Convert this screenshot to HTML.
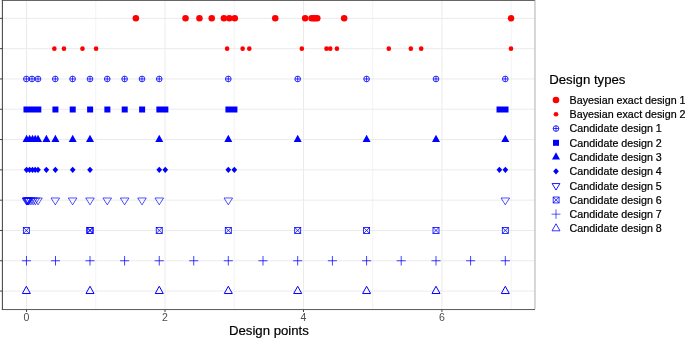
<!DOCTYPE html>
<html lang="en"><head><meta charset="utf-8"><title>Design points</title>
<style>
html,body{margin:0;padding:0;background:#fff;}
body{width:685px;height:338px;overflow:hidden;font-family:"Liberation Sans",Arial,sans-serif;}
svg text{font-family:"Liberation Sans",Arial,sans-serif;}
</style></head><body>
<svg width="685" height="338" viewBox="0 0 685 338" style="display:block">
<rect x="0" y="0" width="685" height="338" fill="#fff"/>
<line x1="95.78" x2="95.78" y1="0.5" y2="309.3" stroke="#ebebeb" stroke-width="0.6"/>
<line x1="234.24" x2="234.24" y1="0.5" y2="309.3" stroke="#ebebeb" stroke-width="0.6"/>
<line x1="372.70" x2="372.70" y1="0.5" y2="309.3" stroke="#ebebeb" stroke-width="0.6"/>
<line x1="511.16" x2="511.16" y1="0.5" y2="309.3" stroke="#ebebeb" stroke-width="0.6"/>
<line x1="26.55" x2="26.55" y1="0.5" y2="309.3" stroke="#ebebeb" stroke-width="1.0"/>
<line x1="165.01" x2="165.01" y1="0.5" y2="309.3" stroke="#ebebeb" stroke-width="1.0"/>
<line x1="303.47" x2="303.47" y1="0.5" y2="309.3" stroke="#ebebeb" stroke-width="1.0"/>
<line x1="441.93" x2="441.93" y1="0.5" y2="309.3" stroke="#ebebeb" stroke-width="1.0"/>
<line x1="2.5" x2="534.95" y1="18.36" y2="18.36" stroke="#ebebeb" stroke-width="1.0"/>
<line x1="2.5" x2="534.95" y1="48.66" y2="48.66" stroke="#ebebeb" stroke-width="1.0"/>
<line x1="2.5" x2="534.95" y1="78.96" y2="78.96" stroke="#ebebeb" stroke-width="1.0"/>
<line x1="2.5" x2="534.95" y1="109.26" y2="109.26" stroke="#ebebeb" stroke-width="1.0"/>
<line x1="2.5" x2="534.95" y1="139.56" y2="139.56" stroke="#ebebeb" stroke-width="1.0"/>
<line x1="2.5" x2="534.95" y1="169.86" y2="169.86" stroke="#ebebeb" stroke-width="1.0"/>
<line x1="2.5" x2="534.95" y1="200.16" y2="200.16" stroke="#ebebeb" stroke-width="1.0"/>
<line x1="2.5" x2="534.95" y1="230.46" y2="230.46" stroke="#ebebeb" stroke-width="1.0"/>
<line x1="2.5" x2="534.95" y1="260.76" y2="260.76" stroke="#ebebeb" stroke-width="1.0"/>
<line x1="2.5" x2="534.95" y1="291.06" y2="291.06" stroke="#ebebeb" stroke-width="1.0"/>
<circle cx="135.86" cy="18.36" r="3.25" fill="#ff0000"/>
<circle cx="185.53" cy="18.36" r="3.25" fill="#ff0000"/>
<circle cx="199.44" cy="18.36" r="3.25" fill="#ff0000"/>
<circle cx="211.72" cy="18.36" r="3.25" fill="#ff0000"/>
<circle cx="223.90" cy="18.36" r="3.25" fill="#ff0000"/>
<circle cx="229.30" cy="18.36" r="3.25" fill="#ff0000"/>
<circle cx="234.77" cy="18.36" r="3.25" fill="#ff0000"/>
<circle cx="275.24" cy="18.36" r="3.25" fill="#ff0000"/>
<circle cx="305.15" cy="18.36" r="3.25" fill="#ff0000"/>
<circle cx="311.60" cy="18.36" r="3.25" fill="#ff0000"/>
<circle cx="313.60" cy="18.36" r="3.25" fill="#ff0000"/>
<circle cx="315.30" cy="18.36" r="3.25" fill="#ff0000"/>
<circle cx="317.30" cy="18.36" r="3.25" fill="#ff0000"/>
<circle cx="344.17" cy="18.36" r="3.25" fill="#ff0000"/>
<circle cx="511.00" cy="18.36" r="3.25" fill="#ff0000"/>
<circle cx="54.35" cy="48.66" r="2.30" fill="#ff0000"/>
<circle cx="63.96" cy="48.66" r="2.30" fill="#ff0000"/>
<circle cx="82.46" cy="48.66" r="2.30" fill="#ff0000"/>
<circle cx="96.07" cy="48.66" r="2.30" fill="#ff0000"/>
<circle cx="227.10" cy="48.66" r="2.30" fill="#ff0000"/>
<circle cx="242.63" cy="48.66" r="2.30" fill="#ff0000"/>
<circle cx="249.29" cy="48.66" r="2.30" fill="#ff0000"/>
<circle cx="301.86" cy="48.66" r="2.30" fill="#ff0000"/>
<circle cx="326.50" cy="48.66" r="2.30" fill="#ff0000"/>
<circle cx="330.20" cy="48.66" r="2.30" fill="#ff0000"/>
<circle cx="336.90" cy="48.66" r="2.30" fill="#ff0000"/>
<circle cx="388.79" cy="48.66" r="2.30" fill="#ff0000"/>
<circle cx="410.83" cy="48.66" r="2.30" fill="#ff0000"/>
<circle cx="421.18" cy="48.66" r="2.30" fill="#ff0000"/>
<circle cx="511.00" cy="48.66" r="2.30" fill="#ff0000"/>
<g stroke="#0000ff" stroke-width="0.8" fill="none"><circle cx="26.35" cy="78.96" r="2.85"/><path d="M23.50 78.96H29.20M26.35 76.11V81.81"/></g>
<g stroke="#0000ff" stroke-width="0.8" fill="none"><circle cx="32.00" cy="78.96" r="2.85"/><path d="M29.15 78.96H34.85M32.00 76.11V81.81"/></g>
<g stroke="#0000ff" stroke-width="0.8" fill="none"><circle cx="38.00" cy="78.96" r="2.85"/><path d="M35.15 78.96H40.85M38.00 76.11V81.81"/></g>
<g stroke="#0000ff" stroke-width="0.8" fill="none"><circle cx="55.30" cy="78.96" r="2.85"/><path d="M52.45 78.96H58.15M55.30 76.11V81.81"/></g>
<g stroke="#0000ff" stroke-width="0.8" fill="none"><circle cx="72.60" cy="78.96" r="2.85"/><path d="M69.75 78.96H75.45M72.60 76.11V81.81"/></g>
<g stroke="#0000ff" stroke-width="0.8" fill="none"><circle cx="90.00" cy="78.96" r="2.85"/><path d="M87.15 78.96H92.85M90.00 76.11V81.81"/></g>
<g stroke="#0000ff" stroke-width="0.8" fill="none"><circle cx="107.25" cy="78.96" r="2.85"/><path d="M104.40 78.96H110.10M107.25 76.11V81.81"/></g>
<g stroke="#0000ff" stroke-width="0.8" fill="none"><circle cx="124.60" cy="78.96" r="2.85"/><path d="M121.75 78.96H127.45M124.60 76.11V81.81"/></g>
<g stroke="#0000ff" stroke-width="0.8" fill="none"><circle cx="142.00" cy="78.96" r="2.85"/><path d="M139.15 78.96H144.85M142.00 76.11V81.81"/></g>
<g stroke="#0000ff" stroke-width="0.8" fill="none"><circle cx="159.25" cy="78.96" r="2.85"/><path d="M156.40 78.96H162.10M159.25 76.11V81.81"/></g>
<g stroke="#0000ff" stroke-width="0.8" fill="none"><circle cx="228.30" cy="78.96" r="2.85"/><path d="M225.45 78.96H231.15M228.30 76.11V81.81"/></g>
<g stroke="#0000ff" stroke-width="0.8" fill="none"><circle cx="297.70" cy="78.96" r="2.85"/><path d="M294.85 78.96H300.55M297.70 76.11V81.81"/></g>
<g stroke="#0000ff" stroke-width="0.8" fill="none"><circle cx="366.60" cy="78.96" r="2.85"/><path d="M363.75 78.96H369.45M366.60 76.11V81.81"/></g>
<g stroke="#0000ff" stroke-width="0.8" fill="none"><circle cx="436.00" cy="78.96" r="2.85"/><path d="M433.15 78.96H438.85M436.00 76.11V81.81"/></g>
<g stroke="#0000ff" stroke-width="0.8" fill="none"><circle cx="505.30" cy="78.96" r="2.85"/><path d="M502.45 78.96H508.15M505.30 76.11V81.81"/></g>
<path d="M23.47 106.38h6v6h-6zM26.42 106.38h6v6h-6zM29.32 106.38h6v6h-6zM32.32 106.38h6v6h-6zM35.32 106.38h6v6h-6zM52.42 106.38h6v6h-6zM69.72 106.38h6v6h-6zM87.12 106.38h6v6h-6zM104.37 106.38h6v6h-6zM121.72 106.38h6v6h-6zM139.12 106.38h6v6h-6zM156.37 106.38h6v6h-6zM162.37 106.38h6v6h-6zM225.42 106.38h6v6h-6zM231.42 106.38h6v6h-6zM496.52 106.38h6v6h-6zM502.52 106.38h6v6h-6z" fill="#0000ff" fill-rule="nonzero"/>
<polygon points="26.60,134.64 30.60,141.99 22.60,141.99" fill="#0000ff"/>
<polygon points="29.60,134.64 33.60,141.99 25.60,141.99" fill="#0000ff"/>
<polygon points="32.50,134.64 36.50,141.99 28.50,141.99" fill="#0000ff"/>
<polygon points="35.20,134.64 39.20,141.99 31.20,141.99" fill="#0000ff"/>
<polygon points="38.00,134.64 42.00,141.99 34.00,141.99" fill="#0000ff"/>
<polygon points="46.40,134.64 50.40,141.99 42.40,141.99" fill="#0000ff"/>
<polygon points="55.40,134.64 59.40,141.99 51.40,141.99" fill="#0000ff"/>
<polygon points="72.70,134.64 76.70,141.99 68.70,141.99" fill="#0000ff"/>
<polygon points="90.00,134.64 94.00,141.99 86.00,141.99" fill="#0000ff"/>
<polygon points="159.25,134.64 163.25,141.99 155.25,141.99" fill="#0000ff"/>
<polygon points="228.30,134.64 232.30,141.99 224.30,141.99" fill="#0000ff"/>
<polygon points="297.70,134.64 301.70,141.99 293.70,141.99" fill="#0000ff"/>
<polygon points="366.60,134.64 370.60,141.99 362.60,141.99" fill="#0000ff"/>
<polygon points="436.00,134.64 440.00,141.99 432.00,141.99" fill="#0000ff"/>
<polygon points="505.30,134.64 509.30,141.99 501.30,141.99" fill="#0000ff"/>
<polygon points="26.60,166.84 29.45,169.86 26.60,172.89 23.75,169.86" fill="#0000ff"/>
<polygon points="29.60,166.84 32.45,169.86 29.60,172.89 26.75,169.86" fill="#0000ff"/>
<polygon points="32.50,166.84 35.35,169.86 32.50,172.89 29.65,169.86" fill="#0000ff"/>
<polygon points="35.20,166.84 38.05,169.86 35.20,172.89 32.35,169.86" fill="#0000ff"/>
<polygon points="38.00,166.84 40.85,169.86 38.00,172.89 35.15,169.86" fill="#0000ff"/>
<polygon points="46.40,166.84 49.25,169.86 46.40,172.89 43.55,169.86" fill="#0000ff"/>
<polygon points="55.40,166.84 58.25,169.86 55.40,172.89 52.55,169.86" fill="#0000ff"/>
<polygon points="72.70,166.84 75.55,169.86 72.70,172.89 69.85,169.86" fill="#0000ff"/>
<polygon points="90.00,166.84 92.85,169.86 90.00,172.89 87.15,169.86" fill="#0000ff"/>
<polygon points="159.25,166.84 162.10,169.86 159.25,172.89 156.40,169.86" fill="#0000ff"/>
<polygon points="165.25,166.84 168.10,169.86 165.25,172.89 162.40,169.86" fill="#0000ff"/>
<polygon points="228.30,166.84 231.15,169.86 228.30,172.89 225.45,169.86" fill="#0000ff"/>
<polygon points="234.30,166.84 237.15,169.86 234.30,172.89 231.45,169.86" fill="#0000ff"/>
<polygon points="499.40,166.84 502.25,169.86 499.40,172.89 496.55,169.86" fill="#0000ff"/>
<polygon points="505.40,166.84 508.25,169.86 505.40,172.89 502.55,169.86" fill="#0000ff"/>
<polygon points="26.40,204.84 30.70,197.99 22.10,197.99" fill="none" stroke="#0000ff" stroke-width="0.68" stroke-linejoin="miter"/>
<polygon points="26.90,204.84 31.20,197.99 22.60,197.99" fill="none" stroke="#0000ff" stroke-width="0.68" stroke-linejoin="miter"/>
<polygon points="27.40,204.84 31.70,197.99 23.10,197.99" fill="none" stroke="#0000ff" stroke-width="0.68" stroke-linejoin="miter"/>
<polygon points="27.90,204.84 32.20,197.99 23.60,197.99" fill="none" stroke="#0000ff" stroke-width="0.68" stroke-linejoin="miter"/>
<polygon points="28.40,204.84 32.70,197.99 24.10,197.99" fill="none" stroke="#0000ff" stroke-width="0.68" stroke-linejoin="miter"/>
<polygon points="28.90,204.84 33.20,197.99 24.60,197.99" fill="none" stroke="#0000ff" stroke-width="0.68" stroke-linejoin="miter"/>
<polygon points="30.90,204.84 35.20,197.99 26.60,197.99" fill="none" stroke="#0000ff" stroke-width="0.68" stroke-linejoin="miter"/>
<polygon points="33.10,204.84 37.40,197.99 28.80,197.99" fill="none" stroke="#0000ff" stroke-width="0.68" stroke-linejoin="miter"/>
<polygon points="35.30,204.84 39.60,197.99 31.00,197.99" fill="none" stroke="#0000ff" stroke-width="0.68" stroke-linejoin="miter"/>
<polygon points="38.00,204.84 42.30,197.99 33.70,197.99" fill="none" stroke="#0000ff" stroke-width="0.68" stroke-linejoin="miter"/>
<polygon points="55.30,204.84 59.60,197.99 51.00,197.99" fill="none" stroke="#0000ff" stroke-width="0.68" stroke-linejoin="miter"/>
<polygon points="72.60,204.84 76.90,197.99 68.30,197.99" fill="none" stroke="#0000ff" stroke-width="0.68" stroke-linejoin="miter"/>
<polygon points="90.00,204.84 94.30,197.99 85.70,197.99" fill="none" stroke="#0000ff" stroke-width="0.68" stroke-linejoin="miter"/>
<polygon points="107.25,204.84 111.55,197.99 102.95,197.99" fill="none" stroke="#0000ff" stroke-width="0.68" stroke-linejoin="miter"/>
<polygon points="124.60,204.84 128.90,197.99 120.30,197.99" fill="none" stroke="#0000ff" stroke-width="0.68" stroke-linejoin="miter"/>
<polygon points="142.00,204.84 146.30,197.99 137.70,197.99" fill="none" stroke="#0000ff" stroke-width="0.68" stroke-linejoin="miter"/>
<polygon points="159.25,204.84 163.55,197.99 154.95,197.99" fill="none" stroke="#0000ff" stroke-width="0.68" stroke-linejoin="miter"/>
<polygon points="228.30,204.84 232.60,197.99 224.00,197.99" fill="none" stroke="#0000ff" stroke-width="0.68" stroke-linejoin="miter"/>
<polygon points="505.30,204.84 509.60,197.99 501.00,197.99" fill="none" stroke="#0000ff" stroke-width="0.68" stroke-linejoin="miter"/>
<g stroke="#0000ff" stroke-width="0.8" fill="none"><rect x="23.35" y="227.46" width="6.0" height="6.0"/><path d="M23.35 227.46L29.35 233.46M23.35 233.46L29.35 227.46"/></g>
<g stroke="#0000ff" stroke-width="0.8" fill="none"><rect x="86.70" y="227.46" width="6.0" height="6.0"/><path d="M86.70 227.46L92.70 233.46M86.70 233.46L92.70 227.46"/></g>
<g stroke="#0000ff" stroke-width="0.8" fill="none"><rect x="87.25" y="227.46" width="6.0" height="6.0"/><path d="M87.25 227.46L93.25 233.46M87.25 233.46L93.25 227.46"/></g>
<g stroke="#0000ff" stroke-width="0.8" fill="none"><rect x="156.25" y="227.46" width="6.0" height="6.0"/><path d="M156.25 227.46L162.25 233.46M156.25 233.46L162.25 227.46"/></g>
<g stroke="#0000ff" stroke-width="0.8" fill="none"><rect x="225.30" y="227.46" width="6.0" height="6.0"/><path d="M225.30 227.46L231.30 233.46M225.30 233.46L231.30 227.46"/></g>
<g stroke="#0000ff" stroke-width="0.8" fill="none"><rect x="294.70" y="227.46" width="6.0" height="6.0"/><path d="M294.70 227.46L300.70 233.46M294.70 233.46L300.70 227.46"/></g>
<g stroke="#0000ff" stroke-width="0.8" fill="none"><rect x="363.60" y="227.46" width="6.0" height="6.0"/><path d="M363.60 227.46L369.60 233.46M363.60 233.46L369.60 227.46"/></g>
<g stroke="#0000ff" stroke-width="0.8" fill="none"><rect x="433.00" y="227.46" width="6.0" height="6.0"/><path d="M433.00 227.46L439.00 233.46M433.00 233.46L439.00 227.46"/></g>
<g stroke="#0000ff" stroke-width="0.8" fill="none"><rect x="502.30" y="227.46" width="6.0" height="6.0"/><path d="M502.30 227.46L508.30 233.46M502.30 233.46L508.30 227.46"/></g>
<path d="M21.90 260.76H31.00M26.45 256.01V265.51" stroke="#0000ff" stroke-width="0.75" fill="none"/>
<path d="M50.95 260.76H60.05M55.50 256.01V265.51" stroke="#0000ff" stroke-width="0.75" fill="none"/>
<path d="M85.45 260.76H94.55M90.00 256.01V265.51" stroke="#0000ff" stroke-width="0.75" fill="none"/>
<path d="M120.05 260.76H129.15M124.60 256.01V265.51" stroke="#0000ff" stroke-width="0.75" fill="none"/>
<path d="M154.70 260.76H163.80M159.25 256.01V265.51" stroke="#0000ff" stroke-width="0.75" fill="none"/>
<path d="M189.20 260.76H198.30M193.75 256.01V265.51" stroke="#0000ff" stroke-width="0.75" fill="none"/>
<path d="M223.75 260.76H232.85M228.30 256.01V265.51" stroke="#0000ff" stroke-width="0.75" fill="none"/>
<path d="M258.45 260.76H267.55M263.00 256.01V265.51" stroke="#0000ff" stroke-width="0.75" fill="none"/>
<path d="M293.15 260.76H302.25M297.70 256.01V265.51" stroke="#0000ff" stroke-width="0.75" fill="none"/>
<path d="M327.85 260.76H336.95M332.40 256.01V265.51" stroke="#0000ff" stroke-width="0.75" fill="none"/>
<path d="M362.05 260.76H371.15M366.60 256.01V265.51" stroke="#0000ff" stroke-width="0.75" fill="none"/>
<path d="M396.65 260.76H405.75M401.20 256.01V265.51" stroke="#0000ff" stroke-width="0.75" fill="none"/>
<path d="M431.45 260.76H440.55M436.00 256.01V265.51" stroke="#0000ff" stroke-width="0.75" fill="none"/>
<path d="M466.05 260.76H475.15M470.60 256.01V265.51" stroke="#0000ff" stroke-width="0.75" fill="none"/>
<path d="M500.75 260.76H509.85M505.30 256.01V265.51" stroke="#0000ff" stroke-width="0.75" fill="none"/>
<polygon points="26.35,286.27 30.38,293.52 22.33,293.52" fill="none" stroke="#0000ff" stroke-width="1.0" stroke-linejoin="miter"/>
<polygon points="90.00,286.27 94.03,293.52 85.97,293.52" fill="none" stroke="#0000ff" stroke-width="1.0" stroke-linejoin="miter"/>
<polygon points="159.25,286.27 163.28,293.52 155.22,293.52" fill="none" stroke="#0000ff" stroke-width="1.0" stroke-linejoin="miter"/>
<polygon points="228.30,286.27 232.33,293.52 224.28,293.52" fill="none" stroke="#0000ff" stroke-width="1.0" stroke-linejoin="miter"/>
<polygon points="297.70,286.27 301.72,293.52 293.68,293.52" fill="none" stroke="#0000ff" stroke-width="1.0" stroke-linejoin="miter"/>
<polygon points="366.60,286.27 370.62,293.52 362.58,293.52" fill="none" stroke="#0000ff" stroke-width="1.0" stroke-linejoin="miter"/>
<polygon points="436.00,286.27 440.02,293.52 431.98,293.52" fill="none" stroke="#0000ff" stroke-width="1.0" stroke-linejoin="miter"/>
<polygon points="505.30,286.27 509.32,293.52 501.28,293.52" fill="none" stroke="#0000ff" stroke-width="1.0" stroke-linejoin="miter"/>
<line x1="534.95" x2="534.95" y1="0" y2="309.3" stroke="#c0c0c0" stroke-width="1.3"/>
<line x1="1.9" x2="534.75" y1="0.45" y2="0.45" stroke="#4a4a4a" stroke-width="0.9"/>
<line x1="1.9" x2="534.95" y1="309.55" y2="309.55" stroke="#444" stroke-width="0.9"/>
<line x1="2.4" x2="2.4" y1="0" y2="310" stroke="#444" stroke-width="1.05"/>
<line x1="0" x2="2.5" y1="18.36" y2="18.36" stroke="#444" stroke-width="1.0"/>
<line x1="0" x2="2.5" y1="48.66" y2="48.66" stroke="#444" stroke-width="1.0"/>
<line x1="0" x2="2.5" y1="78.96" y2="78.96" stroke="#444" stroke-width="1.0"/>
<line x1="0" x2="2.5" y1="109.26" y2="109.26" stroke="#444" stroke-width="1.0"/>
<line x1="0" x2="2.5" y1="139.56" y2="139.56" stroke="#444" stroke-width="1.0"/>
<line x1="0" x2="2.5" y1="169.86" y2="169.86" stroke="#444" stroke-width="1.0"/>
<line x1="0" x2="2.5" y1="200.16" y2="200.16" stroke="#444" stroke-width="1.0"/>
<line x1="0" x2="2.5" y1="230.46" y2="230.46" stroke="#444" stroke-width="1.0"/>
<line x1="0" x2="2.5" y1="260.76" y2="260.76" stroke="#444" stroke-width="1.0"/>
<line x1="0" x2="2.5" y1="291.06" y2="291.06" stroke="#444" stroke-width="1.0"/>
<line x1="26.55" x2="26.55" y1="309.8" y2="312.05" stroke="#444" stroke-width="1.0"/>
<text x="26.55" y="321.35" font-size="10.56" fill="#4d4d4d" text-anchor="middle">0</text>
<line x1="165.01" x2="165.01" y1="309.8" y2="312.05" stroke="#444" stroke-width="1.0"/>
<text x="165.01" y="321.35" font-size="10.56" fill="#4d4d4d" text-anchor="middle">2</text>
<line x1="303.47" x2="303.47" y1="309.8" y2="312.05" stroke="#444" stroke-width="1.0"/>
<text x="303.47" y="321.35" font-size="10.56" fill="#4d4d4d" text-anchor="middle">4</text>
<line x1="441.93" x2="441.93" y1="309.8" y2="312.05" stroke="#444" stroke-width="1.0"/>
<text x="441.93" y="321.35" font-size="10.56" fill="#4d4d4d" text-anchor="middle">6</text>
<text x="268.9" y="335.3" font-size="13.2" fill="#000" stroke="#000" stroke-width="0.2" text-anchor="middle">Design points</text>
<text x="549.2" y="84.25" font-size="13.2" fill="#000" stroke="#000" stroke-width="0.2">Design types</text>
<text transform="translate(569.6,103.95) scale(1.0135,1)" font-size="10.56" fill="#000" stroke="#000" stroke-width="0.22">Bayesian exact design 1</text>
<circle cx="556.00" cy="100.00" r="3.30" fill="#ff0000"/>
<text transform="translate(569.6,118.22) scale(1.0135,1)" font-size="10.56" fill="#000" stroke="#000" stroke-width="0.22">Bayesian exact design 2</text>
<circle cx="556.00" cy="114.27" r="2.35" fill="#ff0000"/>
<text transform="translate(569.6,132.49) scale(1.0135,1)" font-size="10.56" fill="#000" stroke="#000" stroke-width="0.22">Candidate design 1</text>
<g stroke="#0000ff" stroke-width="0.8" fill="none"><circle cx="556.00" cy="128.54" r="2.85"/><path d="M553.15 128.54H558.85M556.00 125.69V131.39"/></g>
<text transform="translate(569.6,146.76) scale(1.0135,1)" font-size="10.56" fill="#000" stroke="#000" stroke-width="0.22">Candidate design 2</text>
<rect x="553.00" y="139.81" width="6.0" height="6.0" fill="#0000ff"/>
<text transform="translate(569.6,161.03) scale(1.0135,1)" font-size="10.56" fill="#000" stroke="#000" stroke-width="0.22">Candidate design 3</text>
<polygon points="556.00,152.16 560.00,159.51 552.00,159.51" fill="#0000ff"/>
<text transform="translate(569.6,175.30) scale(1.0135,1)" font-size="10.56" fill="#000" stroke="#000" stroke-width="0.22">Candidate design 4</text>
<polygon points="556.00,168.33 558.85,171.35 556.00,174.38 553.15,171.35" fill="#0000ff"/>
<text transform="translate(569.6,189.57) scale(1.0135,1)" font-size="10.56" fill="#000" stroke="#000" stroke-width="0.22">Candidate design 5</text>
<polygon points="556.00,190.05 559.92,183.55 552.08,183.55" fill="none" stroke="#0000ff" stroke-width="0.9" stroke-linejoin="miter"/>
<text transform="translate(569.6,203.84) scale(1.0135,1)" font-size="10.56" fill="#000" stroke="#000" stroke-width="0.22">Candidate design 6</text>
<g stroke="#0000ff" stroke-width="0.8" fill="none"><rect x="553.18" y="197.04" width="5.9" height="5.9"/><path d="M553.18 197.04L559.08 202.94M553.18 202.94L559.08 197.04"/></g>
<text transform="translate(569.6,218.11) scale(1.0135,1)" font-size="10.56" fill="#000" stroke="#000" stroke-width="0.22">Candidate design 7</text>
<path d="M551.55 214.16H560.45M556.00 209.41V218.91" stroke="#0000ff" stroke-width="0.65" fill="none"/>
<text transform="translate(569.6,232.38) scale(1.0135,1)" font-size="10.56" fill="#000" stroke="#000" stroke-width="0.22">Candidate design 8</text>
<polygon points="556.00,223.81 560.00,230.81 552.00,230.81" fill="none" stroke="#0000ff" stroke-width="0.8" stroke-linejoin="miter"/>
</svg>
</body></html>
